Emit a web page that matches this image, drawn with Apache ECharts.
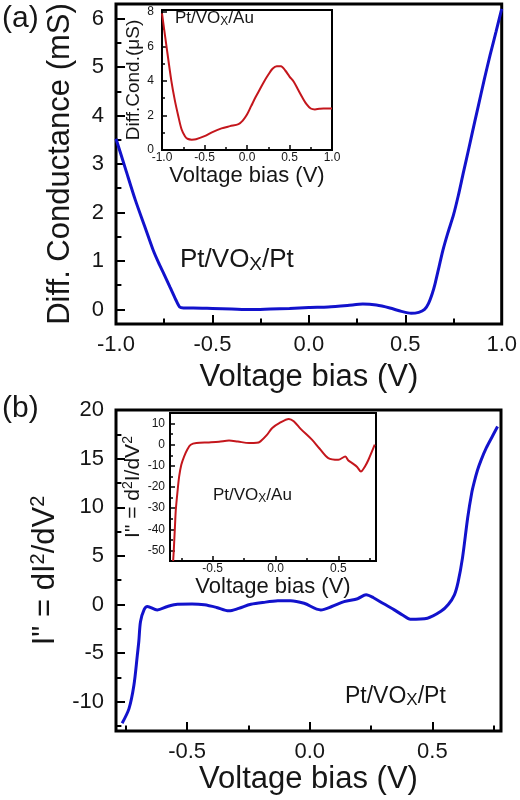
<!DOCTYPE html>
<html>
<head>
<meta charset="utf-8">
<script src="https://cdn.jsdelivr.net/npm/echarts@6/dist/echarts.min.js"></script>
<style>
  html, body { margin: 0; padding: 0; background: #fff; }
  #main { width: 520px; height: 800px; }
</style>
</head>
<body>
<div id="main"></div>
<script>
// (a) Pt/VOx/Pt differential conductance (mS)
var biasA = [-1.0, -0.95, -0.9, -0.85, -0.807, -0.78, -0.75, -0.72, -0.69, -0.67, -0.65, -0.6, -0.5, -0.4, -0.3, -0.2, -0.1, 0.0, 0.1, 0.2, 0.28, 0.35, 0.42, 0.48, 0.53, 0.57, 0.6, 0.62, 0.64, 0.655, 0.675, 0.695, 0.72, 0.75, 0.775, 0.8, 0.83, 0.86, 0.88, 0.91, 0.94, 0.97, 1.0];
var condA = [3.52, 2.89, 2.26, 1.7, 1.22, 0.97, 0.72, 0.46, 0.2, 0.05, 0.03, 0.03, 0.02, 0.01, 0.0, 0.01, 0.02, 0.04, 0.05, 0.08, 0.11, 0.09, 0.03, -0.04, -0.08, -0.06, 0.0, 0.12, 0.33, 0.54, 0.88, 1.22, 1.57, 1.95, 2.35, 2.8, 3.33, 3.87, 4.22, 4.75, 5.25, 5.72, 6.2];

// (a) inset Pt/VOx/Au (uS)
var biasAuA = [-1.0, -0.95, -0.89, -0.85, -0.81, -0.77, -0.73, -0.7, -0.65, -0.6, -0.5, -0.4, -0.3, -0.2, -0.1, -0.05, 0.0, 0.05, 0.1, 0.15, 0.2, 0.25, 0.3, 0.35, 0.4, 0.45, 0.5, 0.55, 0.6, 0.65, 0.7, 0.75, 0.8, 0.85, 0.9, 1.0];
var condAuA = [7.9, 6.1, 4.0, 2.9, 2.0, 1.2, 0.8, 0.65, 0.6, 0.62, 0.8, 1.05, 1.25, 1.38, 1.5, 1.7, 2.05, 2.55, 3.05, 3.5, 3.95, 4.35, 4.7, 4.85, 4.85, 4.6, 4.25, 3.95, 3.5, 3.05, 2.65, 2.4, 2.35, 2.38, 2.4, 2.4];

// (b) Pt/VOx/Pt  d2I/dV2
var biasB = [-0.765, -0.737, -0.717, -0.703, -0.697, -0.69, -0.675, -0.662, -0.622, -0.58, -0.54, -0.48, -0.43, -0.38, -0.33, -0.29, -0.24, -0.18, -0.13, -0.078, -0.023, 0.045, 0.09, 0.14, 0.195, 0.23, 0.26, 0.3, 0.345, 0.38, 0.41, 0.48, 0.535, 0.565, 0.59, 0.605, 0.623, 0.644, 0.66, 0.671, 0.684, 0.698, 0.72, 0.745, 0.766];
var d2B = [-12.2, -10.7, -8.3, -5.2, -3.8, -1.75, -0.5, -0.2, -0.55, -0.2, 0.03, 0.05, -0.03, -0.3, -0.65, -0.4, 0.03, 0.25, 0.38, 0.4, 0.13, -0.55, -0.2, 0.3, 0.6, 1.0, 0.7, 0.1, -0.55, -1.1, -1.5, -1.4, -0.7, 0.0, 1.0, 2.3, 4.8, 8.9, 11.4, 12.6, 13.8, 14.8, 16.1, 17.3, 18.3];

// (b) inset Pt/VOx/Au
var biasAuB = [-0.815, -0.81, -0.8, -0.794, -0.78, -0.767, -0.75, -0.728, -0.7, -0.675, -0.63, -0.53, -0.45, -0.37, -0.3, -0.21, -0.15, -0.12, -0.07, -0.026, 0.03, 0.106, 0.145, 0.2, 0.29, 0.35, 0.42, 0.5, 0.556, 0.58, 0.61, 0.65, 0.68, 0.71, 0.74, 0.79];
var d2AuB = [-55, -50, -38, -31, -22, -15, -9.5, -5.6, -2, 0, 0.8, 1.1, 1.4, 2.0, 1.5, 0.8, 0.9, 1.6, 4.5, 7.9, 10.2, 12.2, 11.1, 7.5, 2.4, -1.8, -6.3, -7.1, -5.6, -7.5, -8.7, -10.5, -12.7, -10.5, -7.1, 0];

// tick values
var xTicksA = [-1, -0.5, 0, 0.5, 1];
var xMinorA = [-0.75, -0.25, 0.25, 0.75];
var yTicksA = [0, 1, 2, 3, 4, 5, 6];
var yMinorA = [0.5, 1.5, 2.5, 3.5, 4.5, 5.5];
var yTicksAuA = [0, 2, 4, 6, 8];
var yMinorAuA = [1, 3, 5, 7];
var xTicksB = [-0.5, 0, 0.5];
var xMinorB = [-0.75, -0.25, 0.25, 0.75];
var yTicksB = [-10, -5, 0, 5, 10, 15, 20];
var yMinorB = [-12.5, -7.5, -2.5, 2.5, 7.5, 12.5, 17.5];
var yTicksAuB = [-50, -40, -30, -20, -10, 0, 10];
var yMinorAuB = [-45, -35, -25, -15, -5, 5];

var FONT = 'Liberation Sans, Arial, sans-serif';
var INK = '#161616';

function fmt1(v) { return v.toFixed(1); }
function fmt0(v) { return String(Math.round(v)); }

// one axis with labels + major ticks, a twin with only the short minor ticks
function axisPair(dir, grid, min, max, majors, minors, o) {
  var base = {
    type: 'value', gridIndex: grid, min: min, max: max,
    position: dir === 'x' ? 'bottom' : 'left',
    splitLine: { show: false },
    axisLine: { show: false, onZero: false }
  };
  var major = Object.assign({}, base, {
    axisTick: { inside: true, length: o.tick, lineStyle: { color: '#000', width: o.tw }, customValues: majors },
    axisLabel: { customValues: majors, formatter: o.fmt, margin: o.margin, fontSize: o.fs, color: INK, fontFamily: FONT },
    name: o.name, nameLocation: 'middle', nameGap: o.gap,
    nameTextStyle: { fontSize: o.nfs, color: INK, fontFamily: FONT, rich: o.rich }
  });
  var minor = Object.assign({}, base, {
    axisTick: { inside: true, length: o.tick * 0.6, lineStyle: { color: '#000', width: o.tw }, customValues: minors },
    axisLabel: { show: false }
  });
  return [major, minor];
}

var supMain = {
  b: { fontSize: 31, fontFamily: FONT, color: INK, lineHeight: 34 },
  s: { fontSize: 20, fontFamily: FONT, color: INK, verticalAlign: 'top', lineHeight: 20, padding: [0, 0, 6, 0] }
};
var supInset = {
  b: { fontSize: 21, fontFamily: FONT, color: INK, lineHeight: 24 },
  s: { fontSize: 14, fontFamily: FONT, color: INK, verticalAlign: 'top', lineHeight: 14, padding: [0, 0, 4, 0] }
};

var xAxes = [].concat(
  axisPair('x', 0, -1, 1, xTicksA, xMinorA, { tick: 9, tw: 2, fmt: fmt1, margin: 10, fs: 22, name: 'Voltage bias (V)', gap: 38, nfs: 31 }),
  axisPair('x', 1, -1, 1, xTicksA, xMinorA, { tick: 5, tw: 1.5, fmt: fmt1, margin: 2, fs: 12, name: 'Voltage bias (V)', gap: 11, nfs: 22 }),
  axisPair('x', 2, -0.79, 0.78, xTicksB, xMinorB, { tick: 9, tw: 2, fmt: fmt1, margin: 10, fs: 22, name: 'Voltage bias (V)', gap: 31, nfs: 31 }),
  axisPair('x', 3, -0.84, 0.8, xTicksB, xMinorB, { tick: 5, tw: 1.5, fmt: fmt1, margin: 2, fs: 12, name: 'Voltage bias (V)', gap: 12, nfs: 22 })
);
var yAxes = [].concat(
  axisPair('y', 0, -0.3, 6.3, yTicksA, yMinorA, { tick: 9, tw: 2, fmt: fmt0, margin: 12, fs: 22, name: 'Diff. Conductance (mS)', gap: 40, nfs: 31 }),
  axisPair('y', 1, 0, 8.1, yTicksAuA, yMinorAuA, { tick: 5, tw: 1.5, fmt: fmt0, margin: 8, fs: 12, name: 'Diff.Cond.(\u03bcS)', gap: 10, nfs: 19 }),
  axisPair('y', 2, -13, 20, yTicksB, yMinorB, { tick: 9, tw: 2, fmt: fmt0, margin: 12, fs: 22, name: '{b|I" = dI}{s|2}{b|/dV}{s|2}', gap: 34, nfs: 31, rich: supMain }),
  axisPair('y', 3, -55, 15, yTicksAuB, yMinorAuB, { tick: 5, tw: 1.5, fmt: fmt0, margin: 5, fs: 12, name: '{b|I" = d}{s|2}{b|I/dV}{s|2}', gap: 21, nfs: 21, rich: supInset })
);

function subText(main1, main2, fs) {
  return {
    text: '{a|' + main1 + '}{s|X}{a|' + main2 + '}',
    rich: {
      a: { fontSize: fs, fontFamily: FONT, fill: INK, lineHeight: fs + 2 },
      s: { fontSize: Math.round(fs * 0.72), fontFamily: FONT, fill: INK, lineHeight: Math.round(fs * 0.72), padding: [Math.round(fs * 0.35), 0, 0, 0], verticalAlign: 'bottom' }
    }
  };
}

var chart = echarts.init(document.getElementById('main'), null, { renderer: 'canvas' });
chart.setOption({
  animation: false,
  backgroundColor: '#fff',
  grid: [
    { left: 116, top: 4, right: 17, bottom: 476, show: true, borderColor: '#000', borderWidth: 3, backgroundColor: 'transparent' },
    { left: 162, top: 10, right: 188, bottom: 650, show: true, borderColor: '#000', borderWidth: 2, backgroundColor: '#fff' },
    { left: 116, top: 410, right: 19, bottom: 69, show: true, borderColor: '#000', borderWidth: 3, backgroundColor: 'transparent' },
    { left: 170, top: 413, right: 144, bottom: 239, show: true, borderColor: '#000', borderWidth: 2, backgroundColor: '#fff' }
  ],
  xAxis: xAxes,
  yAxis: yAxes,
  series: [
    { type: 'line', xAxisIndex: 0, yAxisIndex: 0, data: biasA.map(function (v, i) { return [v, condA[i]]; }),
      showSymbol: false, smooth: 0.25, lineStyle: { color: '#1212cc', width: 3 } },
    { type: 'line', xAxisIndex: 2, yAxisIndex: 2, data: biasAuA.map(function (v, i) { return [v, condAuA[i]]; }),
      showSymbol: false, smooth: 0.3, lineStyle: { color: '#c4161c', width: 2 } },
    { type: 'line', xAxisIndex: 4, yAxisIndex: 4, data: biasB.map(function (v, i) { return [v, d2B[i]]; }),
      showSymbol: false, smooth: 0.3, lineStyle: { color: '#1212cc', width: 3 } },
    { type: 'line', xAxisIndex: 6, yAxisIndex: 6, data: biasAuB.map(function (v, i) { return [v, d2AuB[i]]; }),
      showSymbol: false, smooth: 0.3, lineStyle: { color: '#c4161c', width: 2 } }
  ],
  graphic: [
    { type: 'text', left: 2, top: 4, style: { text: '(a)', fontSize: 30, fontFamily: FONT, fill: INK } },
    { type: 'text', left: 2, top: 394, style: { text: '(b)', fontSize: 30, fontFamily: FONT, fill: INK } },
    { type: 'text', left: 180, top: 246, style: subText('Pt/VO', '/Pt', 26) },
    { type: 'text', left: 175, top: 10, z: 10, style: subText('Pt/VO', '/Au', 17) },
    { type: 'text', left: 213, top: 487, z: 10, style: subText('Pt/VO', '/Au', 17) },
    { type: 'text', left: 345, top: 684, style: subText('Pt/VO', '/Pt', 23) }
  ]
});
</script>
</body>
</html>
